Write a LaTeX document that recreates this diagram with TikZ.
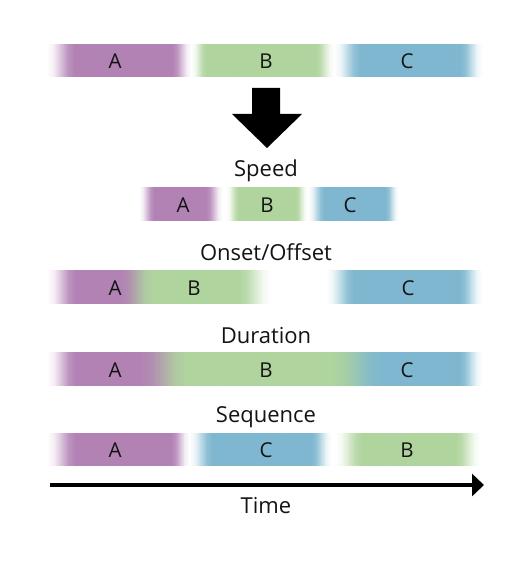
\documentclass[tikz,border=0pt]{standalone}
\usepackage{fontspec}
\setmainfont{Open Sans}
\usetikzlibrary{arrows.meta}
\definecolor{cP}{RGB}{178,130,181}
\definecolor{cG}{RGB}{175,212,157}
\definecolor{cB}{RGB}{126,183,207}
\definecolor{ink}{RGB}{20,20,20}
\newcommand\smseg[4]{%
  \pgfmathsetmacro\xqa{#1+0.25*(#2-#1)}%
  \pgfmathsetmacro\xqb{#1+0.5*(#2-#1)}%
  \pgfmathsetmacro\xqc{#1+0.75*(#2-#1)}%
  \shade[left color=#3,right color=#4!15!#3] (#1,\ya) rectangle (\xqa+0.4,\yb);
  \shade[left color=#4!15!#3,right color=#4!50!#3] (\xqa,\ya) rectangle (\xqb+0.4,\yb);
  \shade[left color=#4!50!#3,right color=#4!85!#3] (\xqb,\ya) rectangle (\xqc+0.4,\yb);
  \shade[left color=#4!85!#3,right color=#4] (\xqc,\ya) rectangle (#2+0.4,\yb);}
\newcommand\mybar[3]{%
  \def\ya{#1}\def\yb{#2}%
  \foreach \xa/\xb/\ca/\cb in {#3}{\smseg{\xa}{\xb}{\ca}{\cb}}}
\tikzset{
  lett/.style={anchor=base,text=ink,font=\fontsize{20.5}{24}\selectfont,inner sep=0pt},
  ttl/.style={anchor=base,text=ink,font=\fontsize{22}{26}\selectfont,inner sep=0pt},
}
\begin{document}
\begin{tikzpicture}[x=1pt,y=-1pt]
\useasboundingbox (0,0) rectangle (520,561);
\fill[white] (0,0) rectangle (520,561);
% top bar
\mybar{45}{77}{47/74/white/cP,74/172/cP/cP,172/191/cP/white,191/206/white/cG,206/315/cG/cG,315/334/cG/white,334/360/white/cB,360/460/cB/cB,460/482/cB/white}
\node[lett] (tA) at (115,69) {A};
\node[lett] (tB) at (266,69) {B};
\node[lett] (tC) at (407,69) {C};
% big arrow
\fill[black] (252,88) -- (280,88) -- (280,114) -- (302,114) -- (267,148) -- (232,114) -- (252,114) -- cycle;
% speed
\node[ttl] (lSpeed) at (266,177) {Speed};
\mybar{188}{220}{139/154/white/cP,154/206/cP/cP,206/222/cP/white,226/239/white/cG,239/295/cG/cG,295/307/cG/white,308/324/white/cB,324/385/cB/cB,385/398/cB/white}
\node[lett] (sA) at (183,212) {A};
\node[lett] (sB) at (267,212) {B};
\node[lett] (sC) at (350,212) {C};
% onset/offset
\node[ttl] (lOnset) at (266,260) {Onset/Offset};
\mybar{270}{303}{47/75/white/cP,75/120/cP/cP,120/152/cP/cG,152/238/cG/cG,238/271/cG/white,326/354/white/cB,354/459/cB/cB,459/482/cB/white}
\node[lett] (oA) at (115,295) {A};
\node[lett] (oB) at (194,295) {B};
\node[lett] (oC) at (408,295) {C};
% duration
\node[ttl] (lDur) at (266,343) {Duration};
\mybar{352}{385}{47/75/white/cP,75/140/cP/cP,140/186/cP/cG,186/331/cG/cG,331/382/cG/cB,382/459/cB/cB,459/482/cB/white}
\node[lett] (dA) at (115,377) {A};
\node[lett] (dB) at (266,377) {B};
\node[lett] (dC) at (407,377) {C};
% sequence
\node[ttl] (lSeq) at (266,422) {Sequence};
\mybar{433}{465}{47/75/white/cP,75/171/cP/cP,171/189/cP/white,189/212/white/cB,212/311/cB/cB,311/331/cB/white,335/362/white/cG,362/455/cG/cG,455/480/cG/white}
\node[lett] (qA) at (115,457) {A};
\node[lett] (qC) at (266,457) {C};
\node[lett] (qB) at (407,457) {B};
% time arrow
\coordinate (ts) at (50,485);
\coordinate (te) at (484,485);
\draw[line width=4.5pt,-{Triangle[length=12pt,width=22pt]}] (ts) -- (te);
\node[ttl] (lTime) at (266,513) {Time};
\end{tikzpicture}
\end{document}
